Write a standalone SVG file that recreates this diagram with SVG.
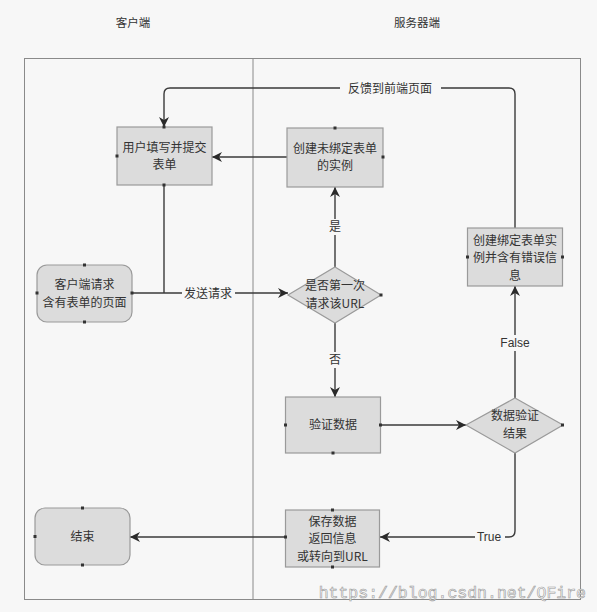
<svg xmlns="http://www.w3.org/2000/svg" width="597" height="612" viewBox="0 0 597 612">
<defs>
<marker id="arr" viewBox="0 0 10 10" refX="10" refY="5" markerWidth="10" markerHeight="10" markerUnits="userSpaceOnUse" orient="auto">
<path d="M0,0 L10,5 L0,10 L3,5 Z" fill="#2a2a2a"/>
</marker>
</defs>
<style>
.lane{fill:none;stroke:#8a8a8a;stroke-width:1}
.box{fill:#dcdcdc;stroke:#9a9a9a;stroke-width:1.2}
.t{font-family:"Noto Sans CJK SC","Noto Sans",sans-serif;font-size:12px;fill:#333;text-anchor:middle}
.h{font-family:"Noto Sans CJK SC","Noto Sans",sans-serif;font-size:11.5px;fill:#333;text-anchor:middle}
.lbl{font-family:"Noto Sans CJK SC","Noto Sans",sans-serif;font-size:12px;fill:#333;text-anchor:middle}
.c{fill:none;stroke:#3a3a3a;stroke-width:1.4}
.a{marker-end:url(#arr)}
.bg{fill:#f7f7f7}
.pt{fill:#333}
</style>
<rect width="597" height="612" fill="#f7f7f7"/>
<g id="lanes">
<rect class="lane" x="24.5" y="58.5" width="556" height="541"/>
<line class="lane" x1="253" y1="58.5" x2="253" y2="599.5"/>
<text class="h" x="133" y="27">客户端</text>
<text class="h" x="417" y="27">服务器端</text>
</g>
<g id="connectors">
<path class="c a" d="M515,228 V94 Q515,88 509,88 H170 Q164,88 164,94 V127"/>
<rect class="bg" x="340" y="80" width="101" height="17"/>
<text class="lbl" x="390" y="93">反馈到前端页面</text>
<path class="c a" d="M287,157 H212"/>
<path class="c" d="M164,185 V293"/>
<path class="c a" d="M132,293 H288"/>
<rect class="bg" x="182" y="286" width="53" height="15"/>
<text class="lbl" x="208" y="298">发送请求</text>
<path class="c a" d="M335,267 V187"/>
<rect class="bg" x="327" y="219" width="16" height="16"/>
<text class="lbl" x="335" y="231">是</text>
<path class="c a" d="M335,323 V397"/>
<rect class="bg" x="327" y="352" width="16" height="16"/>
<text class="lbl" x="335" y="364">否</text>
<path class="c a" d="M381,425 H466"/>
<path class="c a" d="M515,398 V286"/>
<rect class="bg" x="498" y="335" width="34" height="16"/>
<text class="lbl" x="515" y="347" style="font-family:'Liberation Sans',sans-serif">False</text>
<path class="c a" d="M515,453 V531 Q515,537 509,537 H380"/>
<rect class="bg" x="475" y="529" width="30" height="16"/>
<text class="lbl" x="489" y="541" style="font-family:'Liberation Sans',sans-serif">True</text>
<path class="c a" d="M285,537 H130"/>
</g>
<g id="n_fill">
<rect class="box" x="117" y="127" width="95" height="58"/>
<text class="t" x="164.5" y="151.5">用户填写并提交</text>
<text class="t" x="164.5" y="169">表单</text>
<rect class="pt" x="162.5" y="125.5" width="3" height="3"/><rect class="pt" x="162.5" y="183.5" width="3" height="3"/>
<rect class="pt" x="115.5" y="154.5" width="3" height="3"/>
</g>
<g id="n_unbound">
<rect class="box" x="287" y="128" width="96" height="59"/>
<text class="t" x="335" y="152.5">创建未绑定表单</text>
<text class="t" x="335" y="170">的实例</text>
<rect class="pt" x="333.5" y="126.5" width="3" height="3"/><rect class="pt" x="381.5" y="155.5" width="3" height="3"/>
</g>
<g id="n_request">
<rect class="box" x="37" y="265" width="95" height="57" rx="10" ry="10"/>
<text class="t" x="84.5" y="289">客户端请求</text>
<text class="t" x="84.5" y="306.5">含有表单的页面</text>
<rect class="pt" x="83" y="263.5" width="3" height="3"/><rect class="pt" x="83" y="320.5" width="3" height="3"/>
<rect class="pt" x="35.5" y="291.5" width="3" height="3"/><rect class="pt" x="130.5" y="291.5" width="3" height="3"/>
</g>
<g id="n_first">
<polygon class="box" points="335,267 381,295 335,323 288,295"/>
<text class="t" x="335" y="290">是否第一次</text>
<text class="t" x="335" y="307.5">请求该URL</text>
<rect class="pt" x="379.5" y="293.5" width="3" height="3"/>
</g>
<g id="n_validate">
<rect class="box" x="285.5" y="397" width="95" height="56"/>
<text class="t" x="333" y="429">验证数据</text>
<rect class="pt" x="331.5" y="451.5" width="3" height="3"/><rect class="pt" x="284" y="423.5" width="3" height="3"/>
<rect class="pt" x="379" y="423.5" width="3" height="3"/>
</g>
<g id="n_result">
<polygon class="box" points="515,398 563,425 515,453 466,425"/>
<text class="t" x="515" y="420">数据验证</text>
<text class="t" x="515" y="437.5">结果</text>
<rect class="pt" x="561" y="423.5" width="3" height="3"/>
</g>
<g id="n_bound">
<rect class="box" x="467.5" y="228" width="95" height="58"/>
<text class="t" x="515" y="244.5">创建绑定表单实</text>
<text class="t" x="515" y="262">例并含有错误信</text>
<text class="t" x="515" y="279.5">息</text>
<rect class="pt" x="466" y="255.5" width="3" height="3"/><rect class="pt" x="561" y="255.5" width="3" height="3"/>
</g>
<g id="n_save">
<rect class="box" x="285.5" y="510" width="94" height="57"/>
<text class="t" x="332.5" y="525.5">保存数据</text>
<text class="t" x="332.5" y="543">返回信息</text>
<text class="t" x="332.5" y="560.5">或转向到URL</text>
<rect class="pt" x="331" y="508.5" width="3" height="3"/><rect class="pt" x="331" y="565.5" width="3" height="3"/>
<rect class="pt" x="284" y="535.5" width="3" height="3"/>
</g>
<g id="n_end">
<rect class="box" x="35" y="508" width="95" height="57" rx="10" ry="10"/>
<text class="t" x="82.5" y="541">结束</text>
<rect class="pt" x="81" y="506.5" width="3" height="3"/><rect class="pt" x="81" y="563.5" width="3" height="3"/>
<rect class="pt" x="33.5" y="535" width="3" height="3"/>
</g>
<text x="586" y="598" text-anchor="end" style="font-family:'Liberation Mono',monospace;font-size:16.5px" fill="#fafafa" stroke="#9a9a9a" stroke-width="0.6">https://blog.csdn.net/QFire</text>
</svg>
